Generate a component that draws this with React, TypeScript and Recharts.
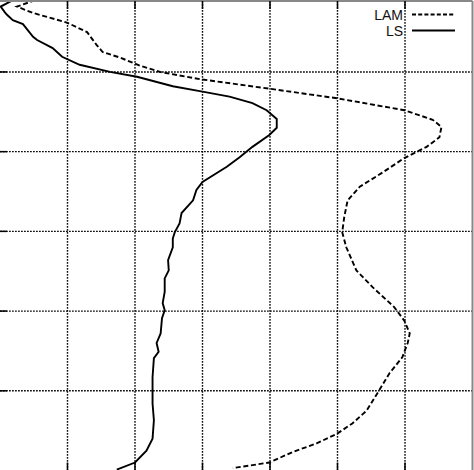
import { LineChart, Line, XAxis, YAxis, CartesianGrid, Legend } from 'recharts'

// vertical profiles: value (x) read against height (y), in grid units
const lsHeight = [5.9, 5.82, 5.75, 5.72, 5.65, 5.6, 5.44, 5.4, 5.3, 5.19, 5.09, 5.0, 4.94, 4.82, 4.76, 4.69, 4.61, 4.52, 4.41, 4.3, 4.21, 4.06, 3.93, 3.81, 3.62, 3.52, 3.39, 3.23, 3.1, 2.99, 2.91, 2.8, 2.64, 2.51, 2.41, 2.24, 2.1, 2.01, 1.91, 1.72, 1.6, 1.49, 1.41, 1.17, 1.01, 0.84, 0.63, 0.4, 0.25, 0.1, 0.01]
const lsValue = [0.19, 0.01, 0.07, 0.1, 0.19, 0.34, 0.49, 0.55, 0.78, 0.92, 1.18, 1.63, 2.03, 2.56, 2.96, 3.4, 3.74, 3.95, 4.1, 4.1, 3.99, 3.74, 3.55, 3.36, 3.0, 2.91, 2.86, 2.69, 2.66, 2.59, 2.56, 2.56, 2.49, 2.5, 2.44, 2.44, 2.41, 2.44, 2.4, 2.38, 2.32, 2.35, 2.28, 2.26, 2.26, 2.26, 2.28, 2.26, 2.17, 2.0, 1.73]

const lamHeight = [5.9, 5.82, 5.74, 5.62, 5.5, 5.34, 5.25, 5.18, 5.08, 5.0, 4.91, 4.79, 4.67, 4.52, 4.4, 4.31, 4.18, 4.06, 3.92, 3.74, 3.56, 3.39, 3.18, 2.99, 2.8, 2.51, 2.3, 2.05, 1.88, 1.72, 1.6, 1.42, 1.22, 1.01, 0.75, 0.59, 0.46, 0.34, 0.23, 0.1, 0.03]
const lamValue = [0.52, 0.25, 0.49, 0.99, 1.29, 1.43, 1.52, 1.78, 2.07, 2.37, 2.96, 3.99, 4.99, 5.99, 6.41, 6.54, 6.51, 6.32, 5.99, 5.67, 5.33, 5.15, 5.1, 5.07, 5.13, 5.28, 5.52, 5.84, 5.99, 6.07, 6.04, 5.96, 5.77, 5.62, 5.43, 5.22, 4.99, 4.69, 4.33, 3.99, 3.45]

const seriesNames = ['LAM', 'LS']
const xTicks = [1, 2, 3, 4, 5, 6]
const yTicks = [1, 2, 3, 4, 5]
const xDomain = [0, 7]
const yDomain = [0, 5.89]

const lsData = lsHeight.map((h, i) => ({ h, v: lsValue[i] }))
const lamData = lamHeight.map((h, i) => ({ h, v: lamValue[i] }))

const dashes: Record<string, string | undefined> = { LAM: '4 2.2', LS: undefined }

const renderLegend = () => (
  <svg width={110} height={40}>
    {seriesNames.map((n, i) => (
      <g key={n}>
        <text x={53} y={19.5 + i * 16} textAnchor="end" fontSize={14} fill="#111">{n}</text>
        <line x1={62} x2={105} y1={14.5 + i * 16} y2={14.5 + i * 16} stroke="#000" strokeWidth={1.8} strokeDasharray={dashes[n]} />
      </g>
    ))}
  </svg>
)

const hidden = { fill: 'transparent', fontSize: 1 }

// only the inner grid lines, the box edges are drawn by the axes
const vGrid = ({ offset }: any) => xTicks.map(t => offset.left + (t - xDomain[0]) / (xDomain[1] - xDomain[0]) * offset.width)
const hGrid = ({ offset }: any) => yTicks.map(t => offset.top + offset.height - (t - yDomain[0]) / (yDomain[1] - yDomain[0]) * offset.height)

export default function App() {
  const tl = { stroke: '#000', strokeWidth: 1.5 }
  const border = { stroke: '#888', strokeWidth: 2 }
  return (
    <div style={{ position: 'absolute', left: 0, top: 0, background: '#fff', fontFamily: '"Liberation Sans", Arial, sans-serif' }}>
      <LineChart width={474} height={472} layout="vertical" margin={{ top: 1, right: 1.5, bottom: 1.5, left: 0 }}>
        <CartesianGrid stroke="#111" strokeWidth={1.4} strokeDasharray="1.8 1.2" verticalCoordinatesGenerator={vGrid} horizontalCoordinatesGenerator={hGrid} />
        <XAxis type="number" domain={xDomain} ticks={xTicks} allowDataOverflow mirror tick={hidden} axisLine={false} tickLine={tl} tickSize={8} />
        <XAxis xAxisId="top" orientation="top" type="number" domain={xDomain} ticks={xTicks} allowDataOverflow mirror tick={hidden} axisLine={border} tickLine={tl} tickSize={8} />
        <YAxis type="number" dataKey="h" reversed domain={yDomain} ticks={yTicks} allowDataOverflow mirror tick={hidden} axisLine={false} tickLine={tl} tickSize={7} />
        <YAxis yAxisId="right" orientation="right" type="number" reversed domain={yDomain} ticks={yTicks} allowDataOverflow mirror tick={hidden} axisLine={border} tickLine={tl} tickSize={5} />
        <Legend layout="vertical" align="center" verticalAlign="middle" content={renderLegend} wrapperStyle={{ left: 350, top: 0, width: 110, height: 40 }} />
        <Line data={lamData} dataKey="v" name="LAM" stroke="#000" strokeWidth={1.9} strokeDasharray="5 2.7" dot={false} isAnimationActive={false} />
        <Line data={lsData} dataKey="v" name="LS" stroke="#000" strokeWidth={1.9} dot={false} isAnimationActive={false} />
      </LineChart>
    </div>
  )
}
